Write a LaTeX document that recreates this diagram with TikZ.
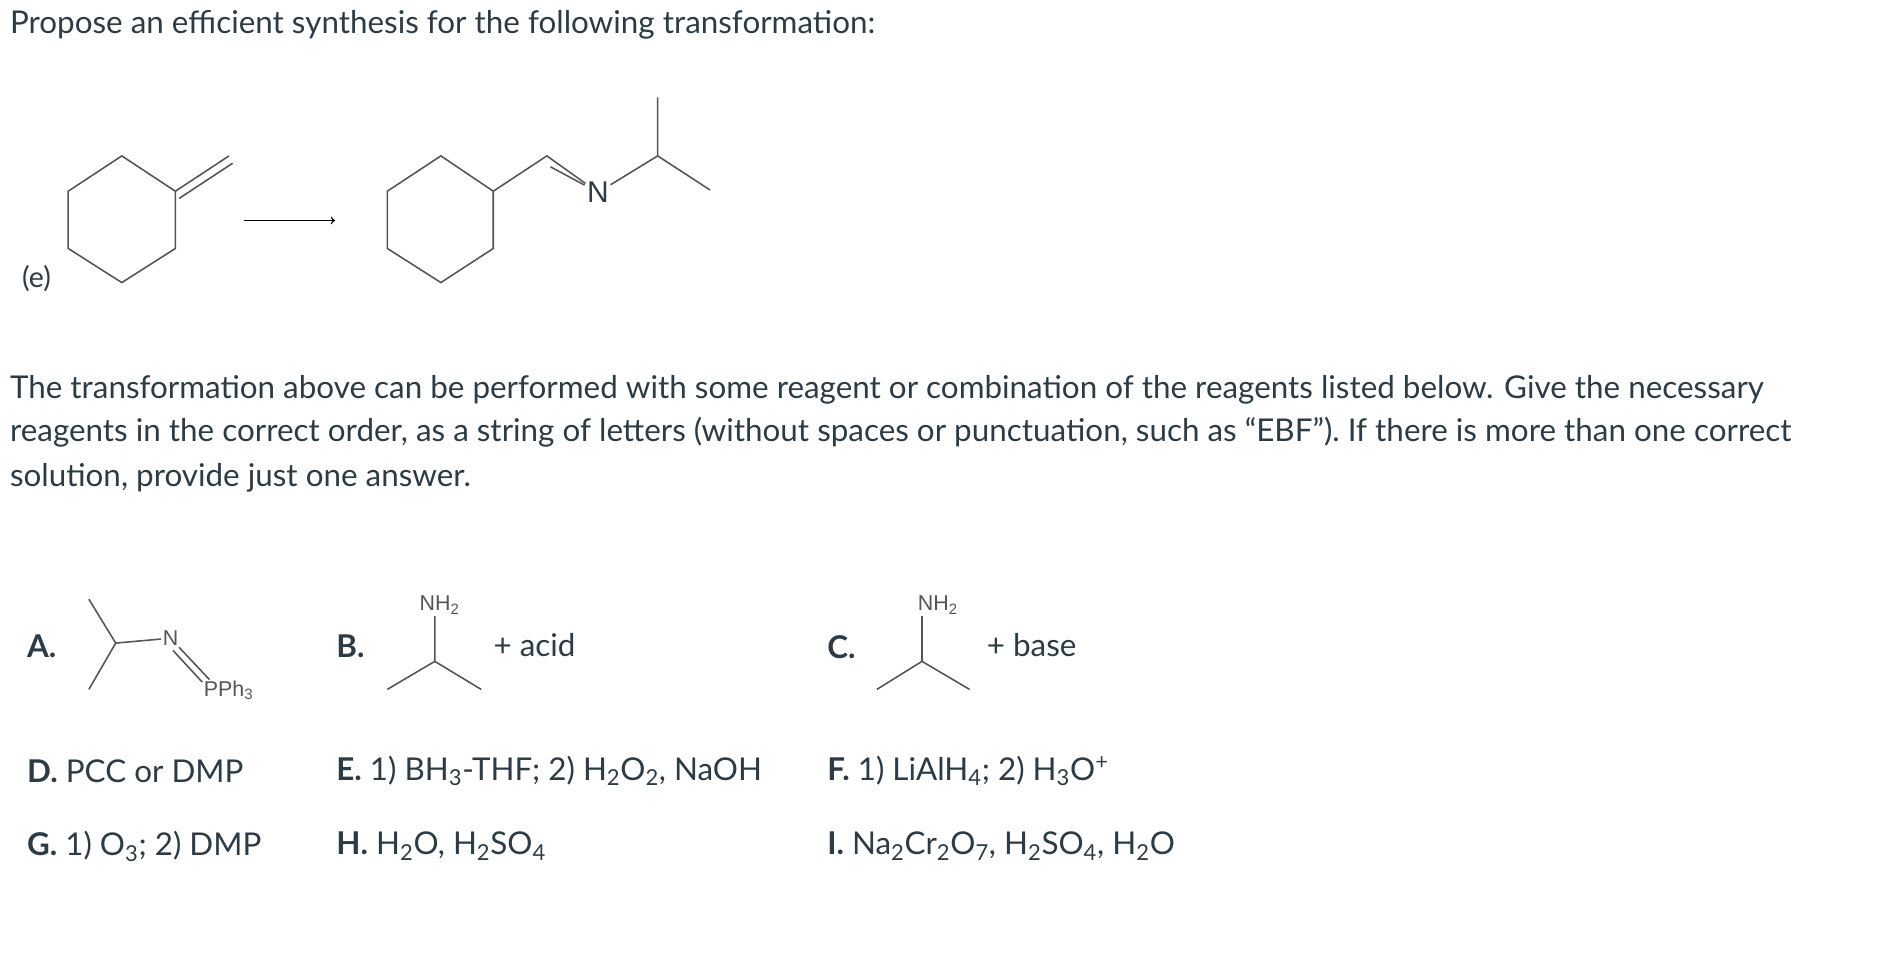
\documentclass[tikz,border=0pt]{standalone}
\usepackage{fontspec}
\setmainfont{Lato}
\setsansfont{Liberation Sans}
\definecolor{txt}{HTML}{2D3B45}
\definecolor{bond}{HTML}{555555}
\begin{document}
\begin{tikzpicture}[x=0.03cm,y=-0.03cm,
  tx/.style={anchor=west,inner sep=0,text=txt,font=\fontsize{22}{26}\selectfont},
  bd/.style={draw=bond,line width=1.1pt},
  atm/.style={inner sep=1pt,text=txt,font=\sffamily\fontsize{21}{23}\selectfont},
  sm/.style={inner sep=1pt,text=bond,font=\sffamily\fontsize{15}{17}\selectfont}]
\useasboundingbox (0,0) rectangle (1560,783);
\node[tx] (q) at (8,20) {Propose an efficient synthesis for the following transformation:};
% reactant
\draw[bd] (100,128)--(144,157)--(144,204)--(100,232)--(56,204)--(56,157)--cycle;
\draw[bd] (144,157)--(188,128);
\draw[bd] (147,163)--(191,134);
\coordinate (a1) at (200,181); \coordinate (a2) at (275,181);
\draw[line width=1pt,->] (a1)--(a2);
\node[atm,font=\fontsize{20}{22}\selectfont] (e) at (30,229) {(e)};
% product
\draw[bd] (362,128)--(405,157)--(405,204)--(362,232)--(318,204)--(318,157)--cycle;
\node[atm] (N) at (491,158) {N};
\draw[bd] (405,157)--(449,128)--(N);
\draw[bd] (452,137)--(480,152);
\draw[bd] (N)--(540,128)--(540,80);
\draw[bd] (540,128)--(583,156);
% paragraph
\node[tx] at (8,320) {The transformation above can be performed with some reagent or combination of the reagents listed below. Give the necessary};
\node[tx] at (8,355) {reagents in the correct order, as a string of letters (without spaces or punctuation, such as “EBF”). If there is more than one correct};
\node[tx] at (8,392) {solution, provide just one answer.};
% A
\node[tx] at (22,531) {\textbf{A.}};
\node[sm] (NA) at (140,524) {N};
\node[sm,anchor=west] (P) at (166,567) {PPh\textsubscript{3}};
\draw[bd] (73,492)--(95,528)--(73,566);
\draw[bd] (95,528)--(NA);
\draw[bd] (NA)--(172,558);
\draw[bd] (142,534)--(166,560);
% B
\node[tx] at (276,531) {\textbf{B.}};
\node[sm] (NB) at (361,497) {NH\textsubscript{2}};
\draw[bd] (NB.south-|357,0)--(357,543)--(318,566);
\draw[bd] (357,543)--(395,566);
\node[tx] at (405,530) {+ acid};
% C
\node[tx] at (679,531) {\textbf{C.}};
\node[sm] (NC) at (770,497) {NH\textsubscript{2}};
\draw[bd] (NC.south-|757,0)--(757,543)--(720,566);
\draw[bd] (757,543)--(796,566);
\node[tx] at (810,530) {+ base};
% D-I
\node[tx] at (22,633) {\textbf{D.} PCC or DMP};
\node[tx] at (276,633) {\textbf{E.} 1) BH\textsubscript{3}-THF; 2) H\textsubscript{2}O\textsubscript{2}, NaOH};
\node[tx] at (679,633) {\textbf{F.} 1) LiAlH\textsubscript{4}; 2) H\textsubscript{3}O\textsuperscript{+}};
\node[tx] at (22,695) {\textbf{G.} 1) O\textsubscript{3}; 2) DMP};
\node[tx] at (276,695) {\textbf{H.} H\textsubscript{2}O, H\textsubscript{2}SO\textsubscript{4}};
\node[tx] at (679,695) {\textbf{I.} Na\textsubscript{2}Cr\textsubscript{2}O\textsubscript{7}, H\textsubscript{2}SO\textsubscript{4}, H\textsubscript{2}O};
\end{tikzpicture}
\end{document}
